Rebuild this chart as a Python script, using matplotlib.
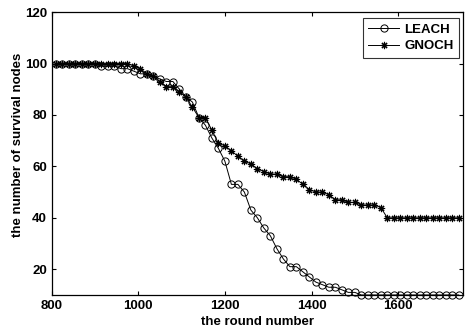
import matplotlib
matplotlib.use("Agg")
import matplotlib.pyplot as plt

plt.rcParams['font.family'] = ['Liberation Sans', 'DejaVu Sans']
plt.rcParams['font.weight'] = 'bold'

rounds = [810 + 15 * k for k in range(63)]

leach = [100, 100, 100, 100, 100, 100, 100, 99, 99, 99,
         98, 98, 97, 96, 96, 95, 94, 93, 93, 90,
         87, 85, 79, 76, 71, 67, 62, 53, 53, 50,
         43, 40, 36, 33, 28, 24, 21, 21, 19, 17,
         15, 14, 13, 13, 12, 11, 11, 10, 10, 10,
         10, 10, 10, 10, 10, 10, 10, 10, 10, 10,
         10, 10, 10]

gnoch = [100, 100, 100, 100, 100, 100, 100, 100, 100, 100,
         100, 100, 99, 98, 96, 95, 93, 91, 91, 89,
         87, 83, 79, 79, 74, 69, 68, 66, 64, 62,
         61, 59, 58, 57, 57, 56, 56, 55, 53, 51,
         50, 50, 49, 47, 47, 46, 46, 45, 45, 45,
         44, 40, 40, 40, 40, 40, 40, 40, 40, 40,
         40, 40, 40]

x_ticks = [800, 1000, 1200, 1400, 1600]
y_ticks = [20, 40, 60, 80, 100, 120]

FS = 9.5

fig = plt.figure(figsize=(4.74, 3.27), dpi=100)
ax = fig.add_axes([0.109, 0.098, 0.868, 0.865])

ax.plot(rounds, leach, color='black', linewidth=0.7, marker='o', markersize=5.2,
        markerfacecolor='none', markeredgewidth=0.7, label='LEACH', clip_on=False)
ax.plot(rounds, gnoch, color='black', linewidth=0.7, marker=(8, 2, 0), markersize=5.2,
        markeredgewidth=0.8, label='GNOCH', clip_on=False)

ax.set_xlim(800, 1750)
ax.set_ylim(10, 120)
ax.set_xticks(x_ticks)
ax.set_yticks(y_ticks)
ax.tick_params(direction='in', length=3, width=0.8, top=True, right=True,
               labelsize=FS, pad=3.5)
for lab in ax.get_xticklabels() + ax.get_yticklabels():
    lab.set_fontweight('bold')
for sp in ax.spines.values():
    sp.set_linewidth(0.9)

ax.set_xlabel('the round number', fontsize=FS, fontweight='bold')
ax.set_ylabel('the number of survival nodes', fontsize=FS, fontweight='bold')
ax.xaxis.set_label_coords(0.5, -0.076)
ax.yaxis.set_label_coords(-0.068, 0.53)

leg = ax.legend(loc='upper right', bbox_to_anchor=(0.990, 0.979), borderaxespad=0,
                fontsize=FS, frameon=True, fancybox=False, edgecolor='black',
                handlelength=2.35, borderpad=0.4, labelspacing=0.35,
                handletextpad=0.38)
leg.get_frame().set_linewidth(0.8)
for t in leg.get_texts():
    t.set_fontweight('bold')

fig.savefig('out.png', dpi=100)
